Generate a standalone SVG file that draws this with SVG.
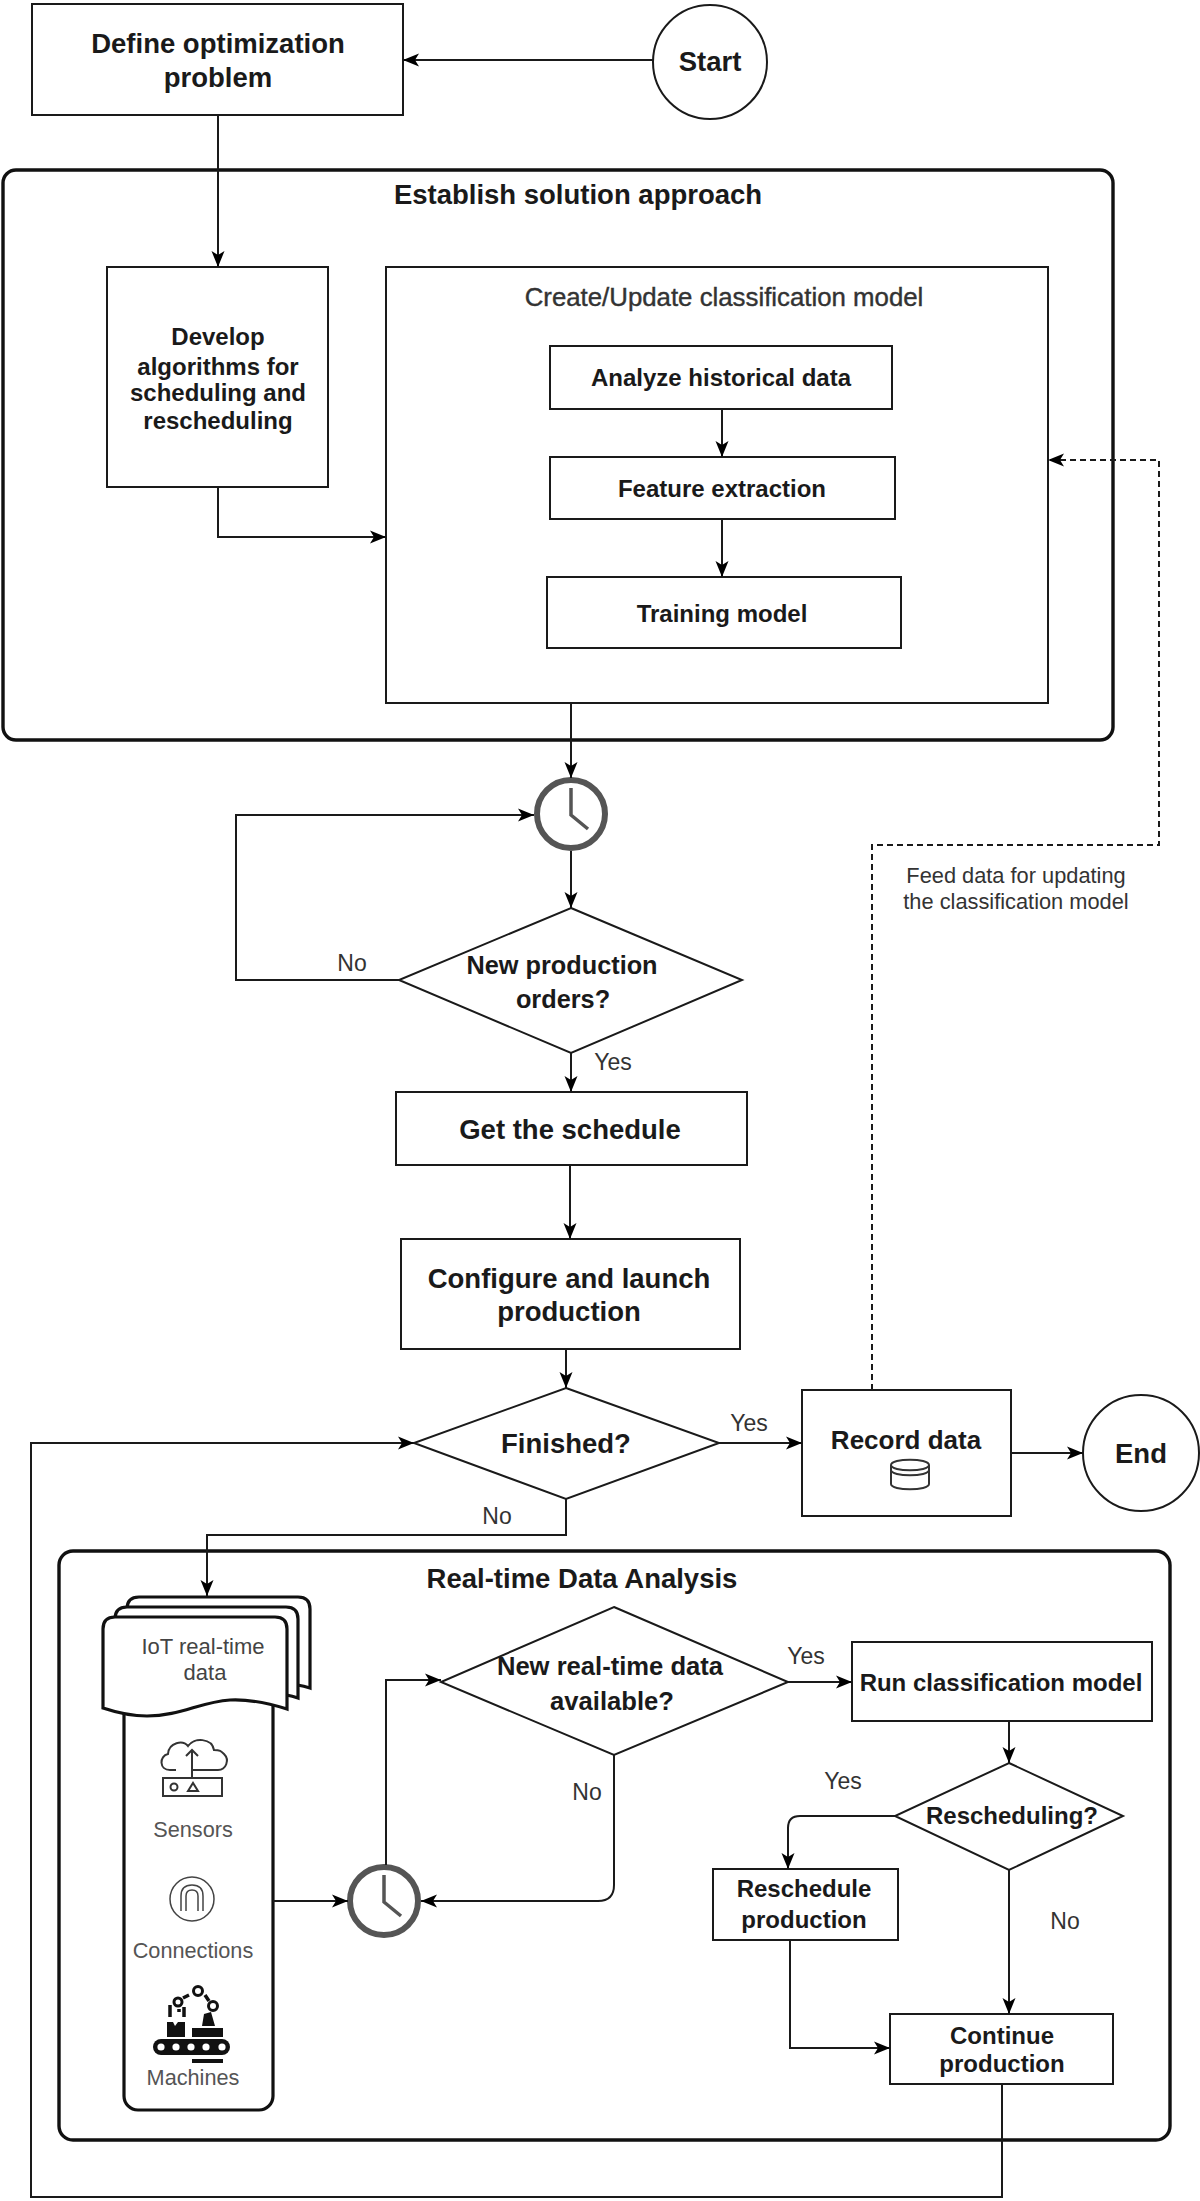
<svg xmlns="http://www.w3.org/2000/svg" width="1200" height="2201" viewBox="0 0 1200 2201">
<style>
text{font-family:"Liberation Sans",Arial,sans-serif;fill:#1a1a1a;text-anchor:middle}
.b27{font-size:27.5px;font-weight:bold}
.b24{font-size:24px;font-weight:bold}
.b26{font-size:26px;font-weight:bold}
.r21{font-size:21.7px;fill:#555}
.r{font-size:23px;fill:#333}
.s{font-size:21.8px;fill:#333}
.n{fill:#fff;stroke:#1a1a1a;stroke-width:2}
.t{fill:#fff;stroke:#111;stroke-width:3.4}
.d{fill:#fff;stroke:#111;stroke-width:3.2}
.c{fill:none;stroke:#1a1a1a;stroke-width:2;marker-end:url(#a)}
.clk{fill:#fff;stroke:#555;stroke-width:6}
.h{fill:none;stroke:#555;stroke-width:3.5}
.i{fill:none;stroke:#333;stroke-width:2}
.k{fill:#111;stroke:none}
</style>
<defs>
<marker id="a" markerUnits="userSpaceOnUse" markerWidth="18" markerHeight="16" refX="16" refY="8" orient="auto">
<path d="M0 1.5L16 8L0 14.5L4 8Z" fill="#000"/>
</marker>
</defs>
<rect width="1200" height="2201" fill="#fff"/>
<g id="container-solution"><rect class="t" x="3" y="170" width="1110" height="570" rx="13"/><text class="b27" x="578" y="204">Establish solution approach</text></g>
<g id="container-realtime"><rect class="t" x="59" y="1551" width="1111" height="589" rx="14"/><text class="b27" x="582" y="1588">Real-time Data Analysis</text></g>
<g id="define"><rect class="n" x="32" y="4" width="371" height="111"/><text class="b27" x="218" y="53">Define optimization</text><text class="b27" x="218" y="87">problem</text></g>
<g id="start"><circle class="n" cx="710" cy="62" r="57"/><text class="b27" x="710" y="71">Start</text></g>
<g id="develop"><rect class="n" x="107" y="267" width="221" height="220"/><text class="b24" x="218" y="345">Develop</text><text class="b24" x="218" y="375">algorithms for</text><text class="b24" x="218" y="401">scheduling and</text><text class="b24" x="218" y="429">rescheduling</text></g>
<g id="create"><rect class="n" x="386" y="267" width="662" height="436"/><text class="r" x="724" y="306" style="font-size:25.8px;stroke:#333;stroke-width:.4">Create/Update classification model</text></g>
<g id="analyze"><rect class="n" x="550" y="346" width="342" height="63"/><text class="b24" x="721" y="386">Analyze historical data</text></g>
<g id="feature"><rect class="n" x="550" y="457" width="345" height="62"/><text class="b24" x="722" y="497">Feature extraction</text></g>
<g id="training"><rect class="n" x="547" y="577" width="354" height="71"/><text class="b24" x="722" y="622">Training model</text></g>
<g id="clock1"><circle class="clk" cx="571" cy="814" r="34"/><path class="h" d="M571 788V815L588 829"/></g>
<g id="new-orders"><path class="n" d="M571 908L742 980L571 1053L399 980Z"/><text class="b24" x="562" y="974" style="font-size:25.3px">New production</text><text class="b24" x="563" y="1008" style="font-size:25.3px">orders?</text></g>
<g id="get-schedule"><rect class="n" x="396" y="1092" width="351" height="73"/><text class="b27" x="570" y="1139">Get the schedule</text></g>
<g id="configure"><rect class="n" x="401" y="1239" width="339" height="110"/><text class="b27" x="569" y="1288">Configure and launch</text><text class="b27" x="569" y="1321">production</text></g>
<g id="finished"><path class="n" d="M566 1388L719 1443L566 1499L414 1443Z"/><text class="b27" x="566" y="1453">Finished?</text></g>
<g id="record"><rect class="n" x="802" y="1390" width="209" height="126"/><text class="b26" x="906" y="1449">Record data</text><path class="i" d="M891 1465c0-7 38-7 38 0v19c0 7-38 7-38 0ZM891 1465c0 7 38 7 38 0M891 1470c0 7 38 7 38 0"/></g>
<g id="end"><circle class="n" cx="1141" cy="1453" r="58"/><text class="b27" x="1141" y="1463">End</text></g>
<g id="iot-data">
<rect class="d" x="124" y="1680" width="149" height="430" rx="14"/>
<path class="d" d="M139 1597H298Q310 1597 310 1609V1688Q285 1680 260 1688L127 1690V1609Q127 1597 139 1597Z"/>
<path class="d" d="M127 1607H286Q298 1607 298 1619V1698Q275 1690 250 1698L115 1700V1619Q115 1607 127 1607Z"/>
<path class="d" d="M115 1617H275Q287 1617 287 1629V1709C268 1703 250 1699 230 1700C200 1702 180 1716 147 1716C130 1716 115 1712 103 1708V1629Q103 1617 115 1617Z"/>
<text class="r" x="203" y="1654" style="font-size:22px;fill:#444">IoT real-time</text><text class="r" x="205" y="1680" style="font-size:22px;fill:#444">data</text>
<path class="i" d="M176 1770h-6c-11 0-11-14-2-16c1-12 15-14 20-8c6-9 24-8 26 4c6 0 7 1 10 4c6 6 2 16-6 16h-26"/>
<path class="i" d="M192 1778V1750M186 1756L192 1750L198 1756"/>
<rect class="i" x="163" y="1778" width="59" height="18"/><circle class="i" cx="174" cy="1787" r="3.5"/><path class="i" d="M188 1791L193 1783L198 1791Z"/>
<text class="r21" x="193" y="1837">Sensors</text>
<circle cx="192" cy="1899" r="22" fill="none" stroke="#444" stroke-width="1.5"/><path d="M181 1911V1896Q181 1885 192 1885Q203 1885 203 1896V1911M186 1911V1896Q186 1890 192 1890Q198 1890 198 1896V1911" fill="none" stroke="#444" stroke-width="1.5"/>
<text class="r21" x="193" y="1958">Connections</text>
<path class="k" d="M167 2022h6l2 4l3-4h7v15h-18ZM192 2028h31v9h-31ZM192 2059h31v4h-31ZM204 2014l7-2l4 14h-13Z"/>
<rect class="k" x="153" y="2039" width="77" height="16" rx="8"/>
<g fill="#fff"><circle cx="161" cy="2047" r="3.6"/><circle cx="176" cy="2047" r="3.6"/><circle cx="191" cy="2047" r="3.6"/><circle cx="206" cy="2047" r="3.6"/><circle cx="222" cy="2047" r="3.6"/></g>
<path d="M170 2017V2005M184 2017V2007M183 1998L189 1995M205 1995L209 2001M179 2009V2012" fill="none" stroke="#111" stroke-width="3.5"/>
<circle cx="178" cy="2002" r="4" fill="none" stroke="#111" stroke-width="3"/><circle cx="198" cy="1991" r="4.5" fill="none" stroke="#111" stroke-width="3"/><circle cx="213" cy="2006" r="4.5" fill="none" stroke="#111" stroke-width="3"/>
<text class="r21" x="193" y="2085">Machines</text>
</g>
<g id="clock2"><circle class="clk" cx="384" cy="1901" r="34"/><path class="h" d="M384 1875V1902L401 1916"/></g>
<g id="new-data"><path class="n" d="M614 1607L788 1682L614 1755L441 1682Z"/><text class="b24" x="610" y="1675" style="font-size:25.6px">New real-time data</text><text class="b24" x="612" y="1710" style="font-size:25.6px">available?</text></g>
<g id="run"><rect class="n" x="852" y="1642" width="300" height="79"/><text class="b24" x="1001" y="1691">Run classification model</text></g>
<g id="rescheduling"><path class="n" d="M1009 1763L1123 1816L1009 1870L895 1816Z"/><text class="b24" x="1012" y="1824">Rescheduling?</text></g>
<g id="reschedule"><rect class="n" x="713" y="1869" width="185" height="71"/><text class="b24" x="804" y="1897">Reschedule</text><text class="b24" x="804" y="1928">production</text></g>
<g id="continue"><rect class="n" x="890" y="2014" width="223" height="70"/><text class="b24" x="1002" y="2044">Continue</text><text class="b24" x="1002" y="2072">production</text></g>
<g id="connectors">
<path class="c" d="M653 60H403"/>
<path class="c" d="M218 115V267"/>
<path class="c" d="M218 487V537H386"/>
<path class="c" d="M722 409V457"/>
<path class="c" d="M722 519V577"/>
<path class="c" d="M571 703V778"/>
<path class="c" d="M571 851V908"/>
<path class="c" d="M399 980H236V815H534"/>
<path class="c" d="M571 1053V1092"/>
<path class="c" d="M570 1165V1239"/>
<path class="c" d="M566 1349V1388"/>
<path class="c" d="M719 1443H802"/>
<path class="c" d="M1011 1453H1083"/>
<path class="c" style="stroke-dasharray:6 4" d="M872 1390V845H1159V460H1048"/>
<path class="c" d="M566 1499V1535H207V1596"/>
<path class="c" d="M1002 2084V2197H31V1443H414"/>
<path class="c" d="M273 1901H348"/>
<path class="c" d="M386 1865V1680H441"/>
<path class="c" d="M788 1682H852"/>
<path class="c" d="M614 1755V1885Q614 1901 598 1901H421"/>
<path class="c" d="M1009 1721V1763"/>
<path class="c" d="M895 1816H800Q788 1816 788 1828V1869"/>
<path class="c" d="M1009 1870V2014"/>
<path class="c" d="M790 1940V2048H890"/>
</g>
<g id="labels">
<text class="r" x="352" y="971">No</text>
<text class="r" x="613" y="1070">Yes</text>
<text class="r" x="749" y="1431">Yes</text>
<text class="r" x="497" y="1524">No</text>
<text class="s" x="1016" y="883">Feed data for updating</text>
<text class="s" x="1016" y="909">the classification model</text>
<text class="r" x="806" y="1664">Yes</text>
<text class="r" x="587" y="1800">No</text>
<text class="r" x="843" y="1789">Yes</text>
<text class="r" x="1065" y="1929">No</text>
</g>
</svg>
